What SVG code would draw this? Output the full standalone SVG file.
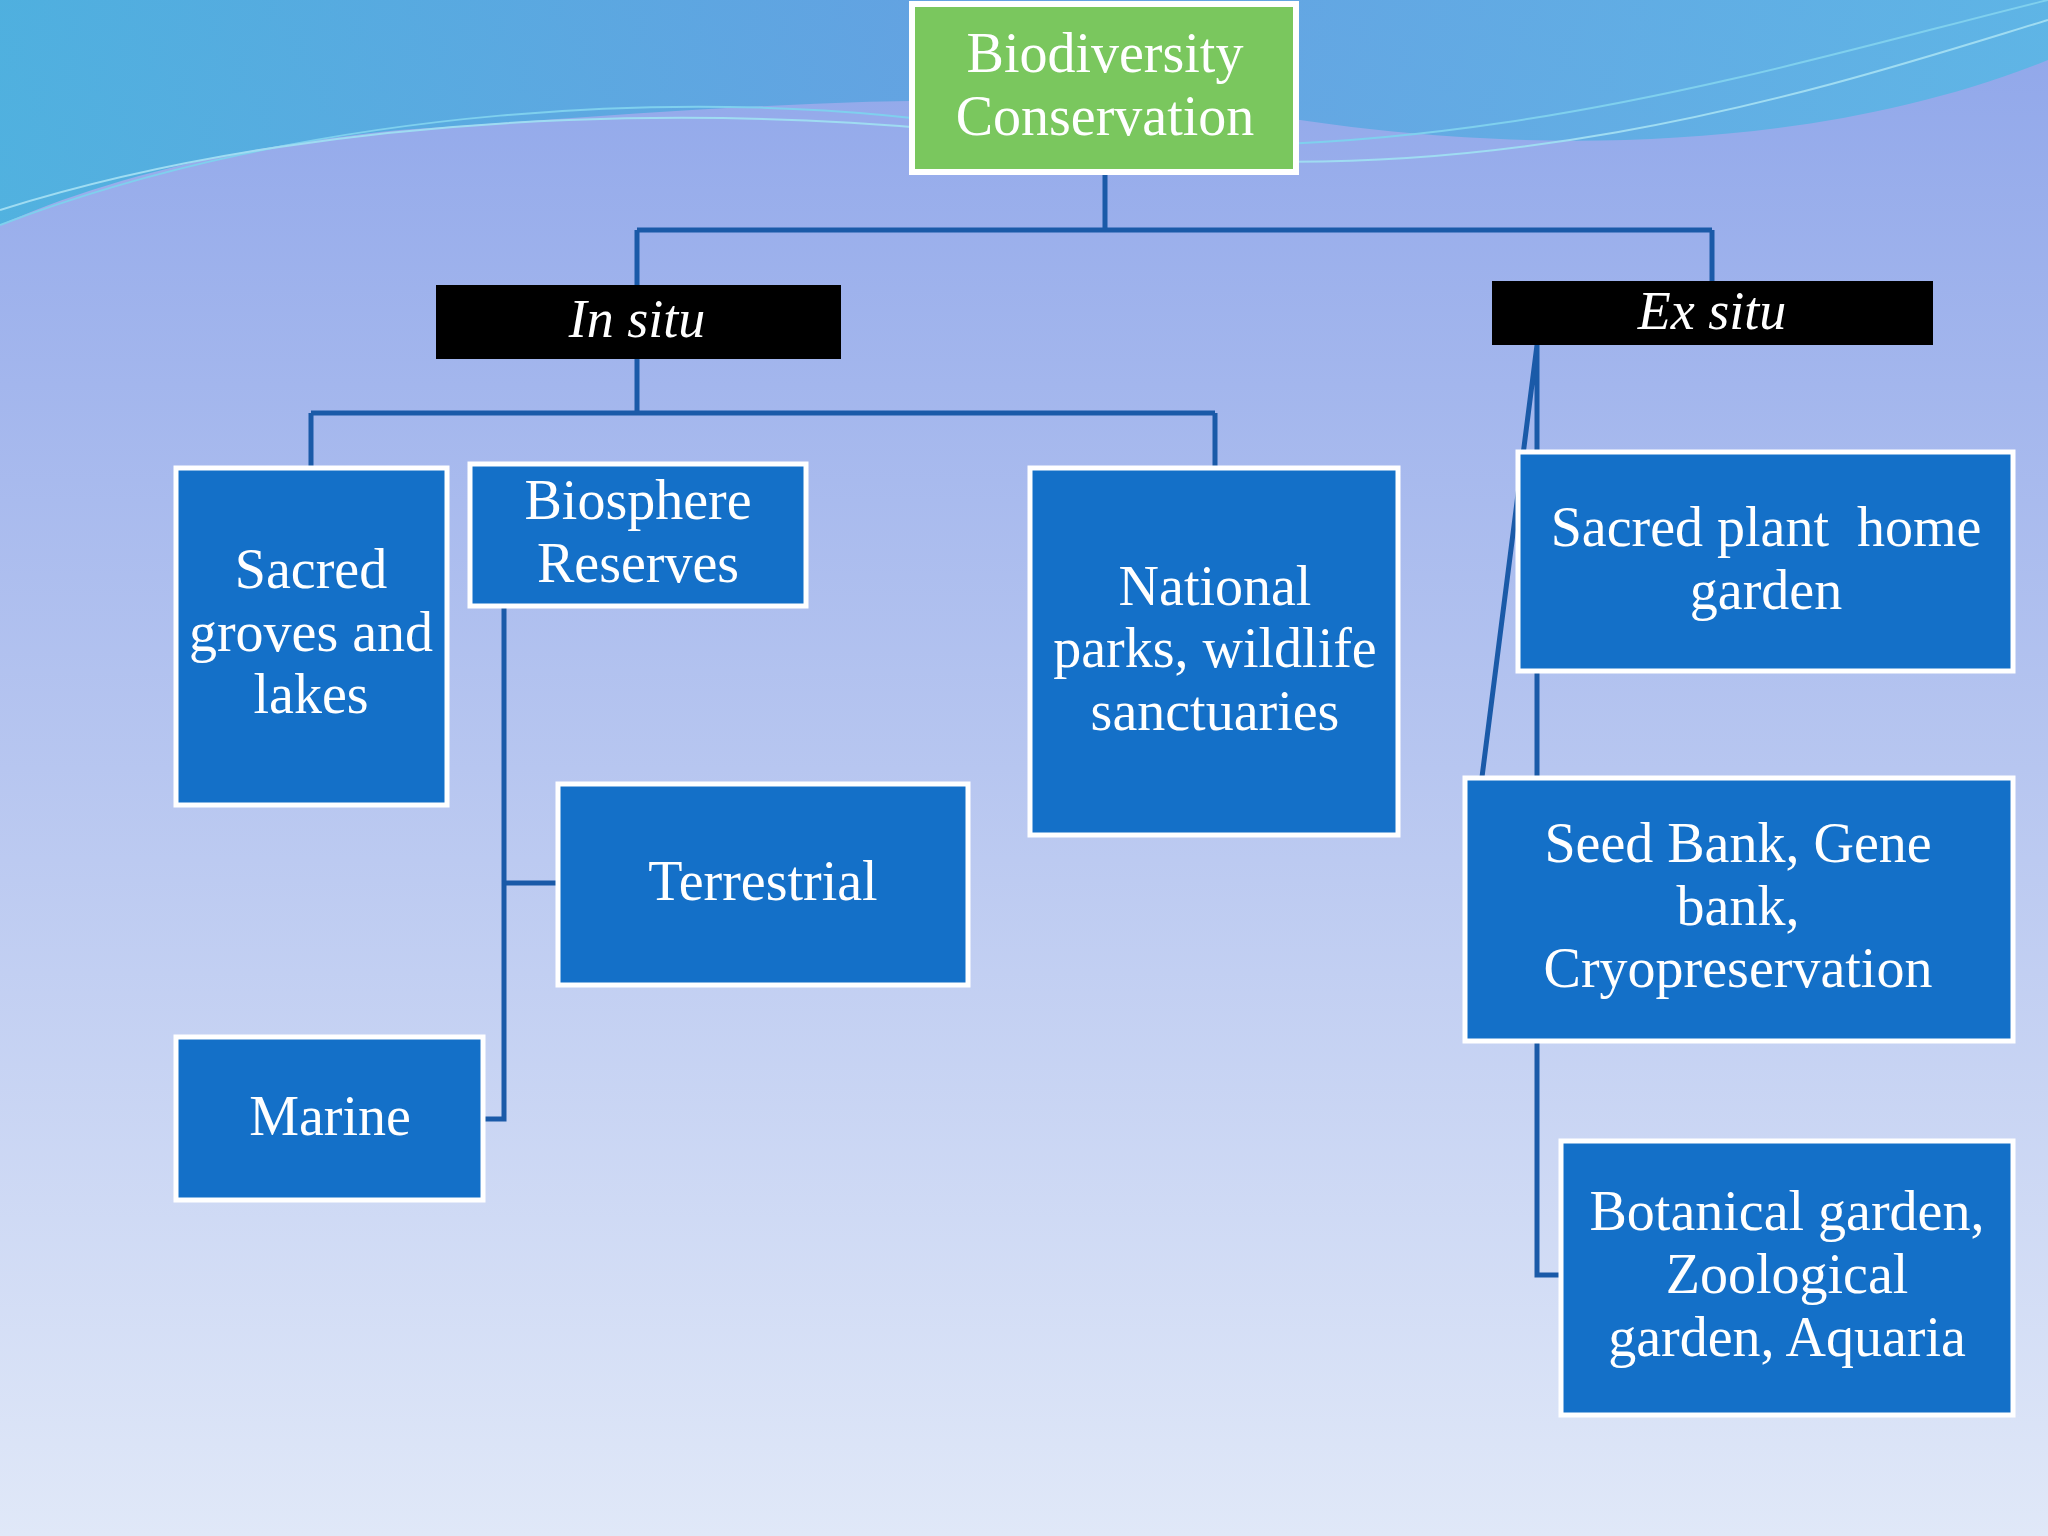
<svg xmlns="http://www.w3.org/2000/svg" width="2048" height="1536" viewBox="0 0 2048 1536">
<defs>
<linearGradient id="bg" x1="0" y1="0" x2="0" y2="1">
<stop offset="0" stop-color="#8fa6ea"/><stop offset="0.5" stop-color="#b7c6f0"/><stop offset="1" stop-color="#e0e8f8"/>
</linearGradient>
<linearGradient id="wave" x1="0" y1="0" x2="1" y2="0">
<stop offset="0" stop-color="#3fb2dc"/><stop offset="0.5" stop-color="#5aa0e0"/><stop offset="1" stop-color="#52b8e4"/>
</linearGradient>
<style>
.box{fill:#1470c8;stroke:#fff;stroke-width:5}
.t{font-family:"Liberation Serif","DejaVu Serif",serif;font-size:56px;fill:#fff;text-anchor:middle}
.h{font-family:"Liberation Serif","DejaVu Serif",serif;font-size:54px;font-style:italic;fill:#fff;text-anchor:middle}
.c{fill:none;stroke:#1a5aa8;stroke-width:5}
</style>
</defs>
<rect width="2048" height="1536" fill="url(#bg)"/>
<path d="M0 0 H2048 V60 C1800 160 1500 150 1300 120 C1000 80 700 110 400 130 C200 150 80 190 0 225 Z" fill="url(#wave)" opacity="0.8"/>
<path d="M0 225 C300 110 700 80 1000 130 C1400 190 1800 60 2048 0" fill="none" stroke="#7fd0ee" stroke-width="2"/>
<path d="M0 210 C350 100 800 100 1100 150 C1500 200 1850 80 2048 20" fill="none" stroke="#9fdcf2" stroke-width="2"/>
<g id="connectors">
<path class="c" d="M1105 172 V230 M637 230 H1712 M637 230 V285 M1712 230 V281"/>
<path class="c" d="M637 359 V413 M311 413 H1215 M311 413 V468 M1215 413 V468"/>
<path class="c" d="M504 606 V1119 H483 M504 883 H558"/>
<path class="c" d="M1537 345 V1275 H1561 M1537 345 L1482 777"/>
</g>
<g id="root"><rect x="912" y="4" width="384" height="168" fill="#7ac75e" stroke="#fff" stroke-width="6"/>
<text class="t" x="1105" y="72">Biodiversity</text><text class="t" x="1105" y="135">Conservation</text></g>
<g id="insitu"><rect x="436" y="285" width="405" height="74" fill="#000"/><text class="h" x="637" y="337">In situ</text></g>
<g id="exsitu"><rect x="1492" y="281" width="441" height="64" fill="#000"/><text class="h" x="1712" y="329">Ex situ</text></g>
<g id="groves"><rect class="box" x="176" y="468" width="271" height="337"/>
<text class="t" x="311" y="588">Sacred</text><text class="t" x="311" y="651">groves and</text><text class="t" x="311" y="713">lakes</text></g>
<g id="biosphere"><rect class="box" x="470" y="464" width="336" height="142"/>
<text class="t" x="638" y="519">Biosphere</text><text class="t" x="638" y="582">Reserves</text></g>
<g id="national"><rect class="box" x="1030" y="468" width="368" height="367"/>
<text class="t" x="1215" y="605">National</text><text class="t" x="1215" y="667">parks, wildlife</text><text class="t" x="1215" y="730">sanctuaries</text></g>
<g id="terrestrial"><rect class="box" x="558" y="784" width="410" height="201"/>
<text class="t" x="763" y="900">Terrestrial</text></g>
<g id="marine"><rect class="box" x="176" y="1037" width="307" height="163"/>
<text class="t" x="330" y="1135">Marine</text></g>
<g id="sacredplant"><rect class="box" x="1518" y="452" width="495" height="219"/>
<text class="t" x="1766" y="546" xml:space="preserve">Sacred plant  home</text><text class="t" x="1766" y="609">garden</text></g>
<g id="seedbank"><rect class="box" x="1465" y="778" width="548" height="263"/>
<text class="t" x="1738" y="862">Seed Bank, Gene</text><text class="t" x="1738" y="925">bank,</text><text class="t" x="1738" y="987">Cryopreservation</text></g>
<g id="botanical"><rect class="box" x="1561" y="1141" width="452" height="274"/>
<text class="t" x="1787" y="1230">Botanical garden,</text><text class="t" x="1787" y="1293">Zoological</text><text class="t" x="1787" y="1356">garden, Aquaria</text></g>
</svg>
